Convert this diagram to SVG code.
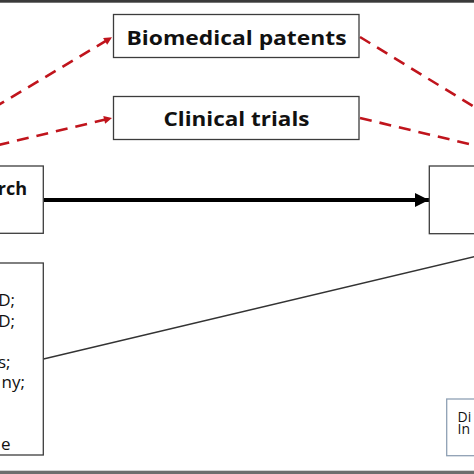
<svg xmlns="http://www.w3.org/2000/svg" width="474" height="474" viewBox="0 0 474 474">
<style>
.box{fill:#ffffff;stroke:#3c3c3c;stroke-width:1.3}
.bt{font-family:"Open Sans","Noto Sans","Liberation Sans",sans-serif;font-weight:bold;fill:#111}
.rt{font-family:"Open Sans","Noto Sans","Liberation Sans",sans-serif;fill:#111}
.red{fill:none;stroke:#c0141c;stroke-width:2.6;stroke-dasharray:12 8}
</style>
<defs>
<marker id="ra" viewBox="0 0 10 10" refX="10" refY="5" markerWidth="9" markerHeight="8" markerUnits="userSpaceOnUse" orient="auto">
<path d="M0,0 L10,5 L0,10 z" fill="#c0141c"/>
</marker>
<marker id="ba" viewBox="0 0 10 10" refX="10" refY="5" markerWidth="17" markerHeight="14" markerUnits="userSpaceOnUse" orient="auto">
<path d="M0,0 L10,5 L0,10 z" fill="#000"/>
</marker>
</defs>
<rect x="0" y="0" width="474" height="474" fill="#ffffff"/>
<g id="connectors">
<line class="red" x1="-20" y1="116" x2="112" y2="37.3" marker-end="url(#ra)" style="stroke-dashoffset:4"/>
<line class="red" x1="-20" y1="149.4" x2="112" y2="118" marker-end="url(#ra)" style="stroke-dashoffset:2"/>
<line class="red" x1="360" y1="37" x2="490" y2="116.5"/>
<line class="red" x1="360" y1="118" x2="490" y2="149"/>
<line x1="44" y1="200" x2="429" y2="200" stroke="#000" stroke-width="4" marker-end="url(#ba)"/>
<line x1="43.5" y1="359" x2="480" y2="255.3" stroke="#333" stroke-width="1.3"/>
</g>
<g id="node-patents">
<rect class="box" x="113.5" y="14.5" width="245.5" height="43"/>
<text class="bt" x="236.5" y="44.5" font-size="20" text-anchor="middle" textLength="220" lengthAdjust="spacingAndGlyphs">Biomedical patents</text>
</g>
<g id="node-trials">
<rect class="box" x="113.5" y="96.5" width="245.5" height="43"/>
<text class="bt" x="236.5" y="126" font-size="20" text-anchor="middle" textLength="146" lengthAdjust="spacingAndGlyphs">Clinical trials</text>
</g>
<g id="node-research">
<rect class="box" x="-20" y="166" width="63.3" height="67.3"/>
<text class="bt" x="27" y="195" font-size="18" text-anchor="end">rch</text>
</g>
<g id="node-right">
<rect class="box" x="429.3" y="166" width="60" height="67.7"/>
</g>
<g id="node-list">
<rect class="box" x="-20" y="263" width="63.3" height="192"/>
<g class="rt" font-size="17" text-anchor="end">
<text x="15" y="306">D;</text>
<text x="15" y="326.5">D;</text>
<text x="10.5" y="367.5">s;</text>
<text x="25" y="388">ny;</text>
<text x="10.5" y="449.5">e</text>
</g>
</g>
<g id="node-legend">
<rect x="446.7" y="399" width="40" height="56.7" fill="#fff" stroke="#8fa0b4" stroke-width="1.3"/>
<g class="rt" font-size="14">
<text x="457.5" y="421.5">Di</text>
<text x="457.5" y="433.5">In</text>
</g>
</g>
<rect x="0" y="0" width="474" height="2.7" fill="#3a3a3a"/>
<rect x="0" y="470.7" width="474" height="3.3" fill="#6e6e6e"/>
</svg>
